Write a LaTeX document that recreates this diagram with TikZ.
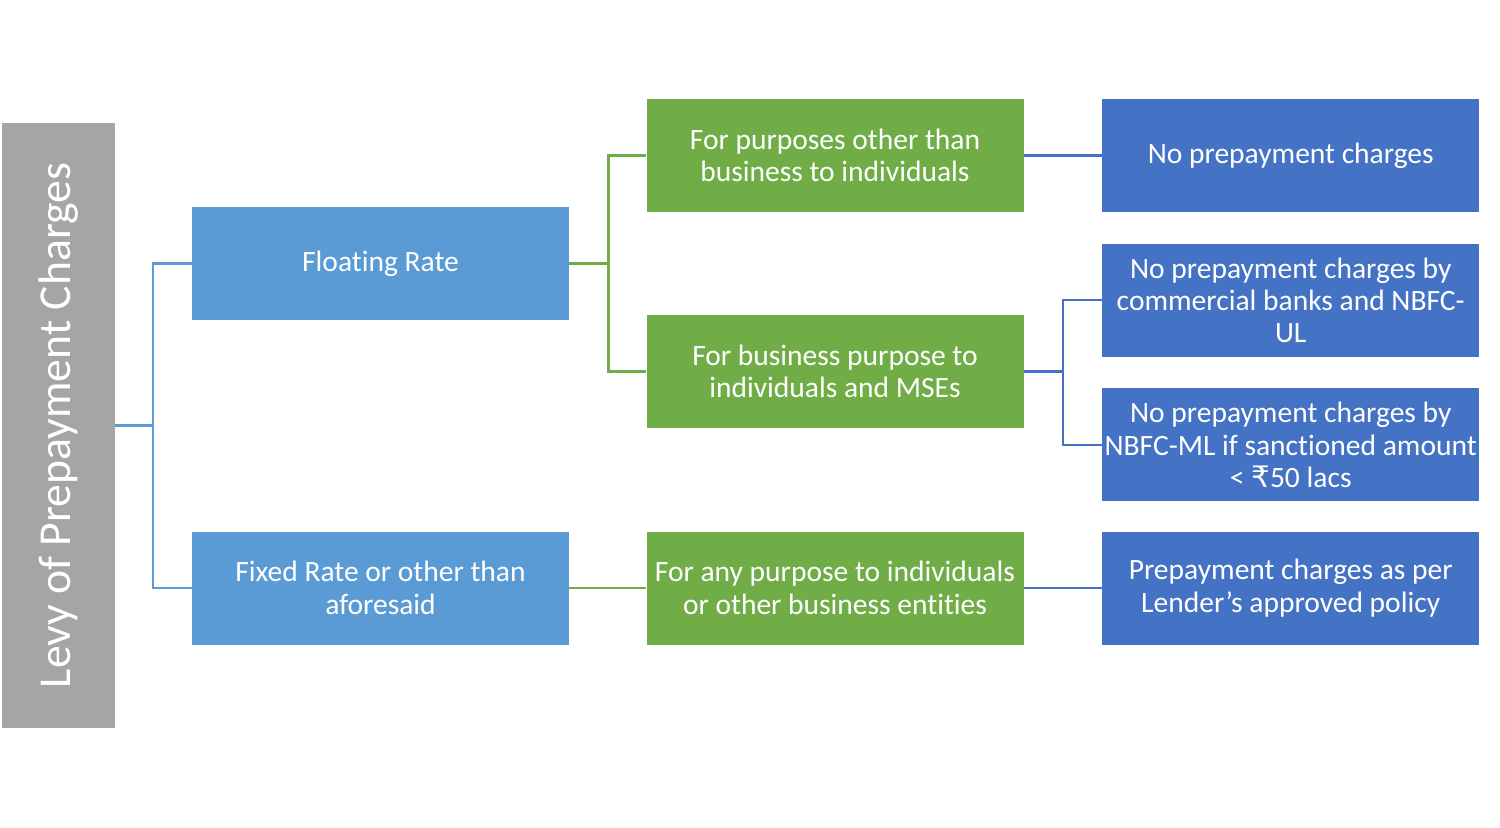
\documentclass[tikz,border=0pt]{standalone}
\usepackage{fontspec}
\setmainfont[Ligatures={CommonOff,ContextualOff},RawFeature={-liga;-clig;-ccmp}]{Carlito}
\newfontfamily\rupeefont{DejaVu Sans}
\usetikzlibrary{positioning}

\definecolor{rootgray}{HTML}{A5A5A5}
\definecolor{rateblue}{HTML}{5B9BD5}
\definecolor{purpgreen}{HTML}{70AD47}
\definecolor{outblue}{HTML}{4472C4}

\begin{document}
\begin{tikzpicture}[
		font=\fontsize{16.8}{18.4}\selectfont,
		root/.style={fill=rootgray, text=white, rotate=90, minimum width=12.1cm, minimum height=2.26cm, font=\fontsize{26}{30}\selectfont},
		rate/.style={fill=rateblue, text=white, minimum width=7.54cm, minimum height=2.26cm, inner xsep=1pt, align=center},
		purpose/.style={fill=purpgreen, text=white, minimum width=7.54cm, minimum height=2.26cm, inner xsep=1pt, align=center},
		outcome/.style={fill=outblue, text=white, minimum width=7.54cm, minimum height=2.26cm, inner xsep=1pt, align=center},
		lnrate/.style={draw=rateblue, line width=1.3pt},
		lnpurp/.style={draw=purpgreen, line width=1.3pt},
		lnout/.style={draw=outblue, line width=1.3pt}
	]
	\useasboundingbox (0,0) rectangle (30,-16.54);

	\node[root] (levy) at (1.17,-8.51) {Levy of Prepayment Charges};

	\node[rate] (float) at (7.61,-5.27) {Floating Rate};
	\node[rate] (fixed) at (7.61,-11.76) {Fixed Rate or other than\\ aforesaid};

	\node[purpose] (nonbiz) at (16.70,-3.11) {For purposes other than\\ business to individuals};
	\node[purpose] (biz) at (16.70,-7.43) {For business purpose to\\ individuals and MSEs};
	\node[purpose] (anypurp) at (16.70,-11.76) {For any purpose to individuals\\ or other business entities};

	\node[outcome, right=1.56cm of nonbiz] (nocharge) {No prepayment charges};
	\node[outcome, below=0.62cm of nocharge] (banks) {No prepayment charges by\\ commercial banks and NBFC-\\ UL};
	\node[outcome, below=0.62cm of banks] (nbfcml) {No prepayment charges by\\ NBFC-ML if sanctioned amount\\ < {\rupeefont ₹}50 lacs};
	\node[outcome, right=1.56cm of anypurp] (policy) {Prepayment charges as per\\ Lender’s approved policy};

	% root to rate types
	\draw[lnrate] (levy.south) -- +(0.76,0) |- (float.west);
	\draw[lnrate] (levy.south) -- +(0.76,0) |- (fixed.west);

	% rate types to purposes
	\draw[lnpurp] (float.east) -- +(0.78,0) |- (nonbiz.west);
	\draw[lnpurp] (float.east) -- +(0.78,0) |- (biz.west);
	\draw[lnpurp] (fixed.east) -- (anypurp.west);

	% purposes to outcomes
	\draw[lnout] (nonbiz.east) -- (nocharge.west);
	\draw[lnout] (biz.east) -- +(0.78,0) |- (banks.west);
	\draw[lnout] (biz.east) -- +(0.78,0) |- (nbfcml.west);
	\draw[lnout] (anypurp.east) -- (policy.west);
\end{tikzpicture}
\end{document}
